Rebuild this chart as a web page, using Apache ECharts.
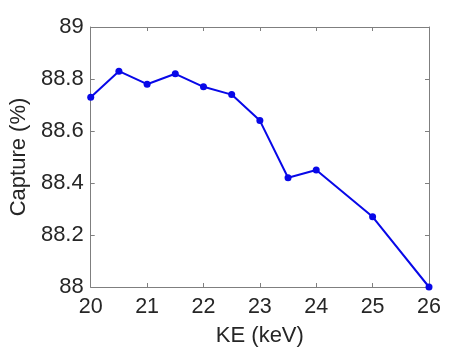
<!DOCTYPE html>
<html>
<head>
<meta charset="utf-8">
<script src="https://cdn.jsdelivr.net/npm/echarts@6/dist/echarts.min.js"></script>
<style>
html,body{margin:0;padding:0;background:#fff;}
#chart{width:474px;height:355px;}
</style>
</head>
<body>
<div id="chart"></div>
<script>
var keValues = [20, 20.5, 21, 21.5, 22, 22.5, 23, 23.5, 24, 25, 26];
var captureValues = [88.73, 88.83, 88.78, 88.82, 88.77, 88.74, 88.64, 88.42, 88.45, 88.27, 88.0];
var xTicks = [20, 21, 22, 23, 24, 25, 26];
var yTicks = [88, 88.2, 88.4, 88.6, 88.8, 89];

var FONT = '"Liberation Sans", Arial, Helvetica, sans-serif';
var AX = '#7f7f7f';
var TXT = '#262626';

var chart = echarts.init(document.getElementById('chart'), null, {renderer: 'canvas'});
var data = keValues.map(function (k, i) { return [k, captureValues[i]]; });

function yFmt(v) {
  var r = Math.round(v * 10) / 10;
  return (Math.abs(r - Math.round(r)) < 1e-9) ? String(Math.round(r)) : r.toFixed(1);
}

var baseX = {
  type: 'value', min: xTicks[0], max: xTicks[xTicks.length - 1], interval: 1,
  axisLine: {show: true, onZero: false, lineStyle: {color: AX, width: 1}},
  axisTick: {show: true, inside: true, length: 4, lineStyle: {color: AX}},
  splitLine: {show: false}
};
var baseY = {
  type: 'value', min: yTicks[0], max: yTicks[yTicks.length - 1], interval: 0.2,
  axisLine: {show: true, onZero: false, lineStyle: {color: AX, width: 1}},
  axisTick: {show: true, inside: true, length: 4, lineStyle: {color: AX}},
  splitLine: {show: false}
};

chart.setOption({
  animation: false,
  backgroundColor: '#ffffff',
  grid: {left: 86, right: 45, top: 27, bottom: 68, containLabel: false},
  xAxis: [
    Object.assign({}, baseX, {
      position: 'bottom',
      name: 'KE (keV)', nameLocation: 'middle', nameGap: 38,
      nameTextStyle: {fontFamily: FONT, fontSize: 22, color: TXT},
      axisLabel: {fontFamily: FONT, fontSize: 21.5, color: TXT, margin: 9}
    }),
    Object.assign({}, baseX, {position: 'top', axisLabel: {show: false}})
  ],
  yAxis: [
    Object.assign({}, baseY, {
      position: 'left',
      name: 'Capture (%)', nameLocation: 'middle', nameGap: 58,
      nameTextStyle: {fontFamily: FONT, fontSize: 22, color: TXT},
      axisLabel: {fontFamily: FONT, fontSize: 22, color: TXT, margin: 7, formatter: yFmt}
    }),
    Object.assign({}, baseY, {position: 'right', axisLabel: {show: false}})
  ],
  series: [{
    type: 'line',
    xAxisIndex: 0, yAxisIndex: 0,
    data: data,
    symbol: 'circle', symbolSize: 7,
    lineStyle: {color: '#0808e8', width: 2},
    itemStyle: {color: '#0808e8'},
    clip: false
  }]
});
</script>
</body>
</html>
